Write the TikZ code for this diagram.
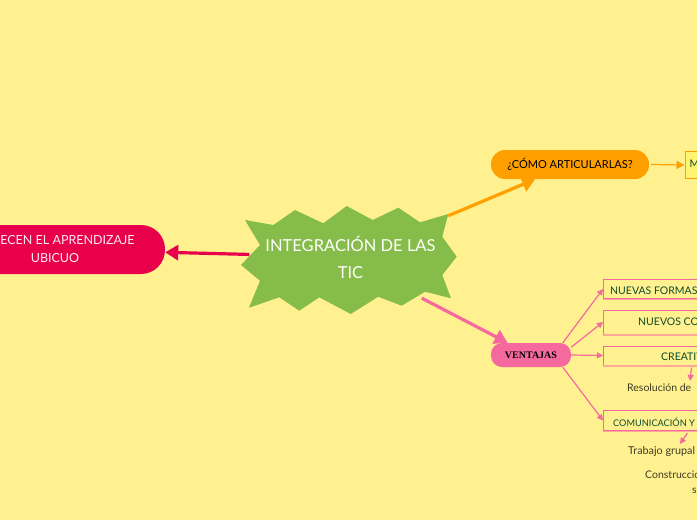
\documentclass[tikz,border=0pt]{standalone}
\usepackage{fontspec}
\setmainfont{Lato}
\newfontfamily\timesfont{Liberation Serif}
\usetikzlibrary{arrows.meta,calc}
\definecolor{bgc}{HTML}{FFF18F}
\definecolor{starc}{HTML}{86BC4A}
\definecolor{orangec}{HTML}{FFA000}
\definecolor{crimc}{HTML}{E8004C}
\definecolor{pinkc}{HTML}{F5699E}
\definecolor{salmonc}{HTML}{FFA89A}
\definecolor{greenc}{HTML}{0E4B2C}
\definecolor{brownc}{HTML}{3F3A22}
\tikzset{
 x=1pt,y=-1pt,
 pill/.style={rounded corners=#1,inner sep=0pt,align=center},
 subbox/.style={anchor=west,draw=pinkc,line width=1pt,inner sep=0pt,minimum width=200pt},
 subtext/.style={anchor=west,inner sep=0pt,text=greenc,font=\fontsize{10.5}{12}\selectfont},
 plain/.style={anchor=west,inner sep=0pt,text=brownc,font=\fontsize{10.5}{12}\selectfont},
 bigarrow/.style={line width=3.2pt,-{Triangle[length=13pt,width=15pt]}},
 thinarrow/.style={pinkc,line width=1.2pt,-{Triangle[length=6pt,width=6pt]}},
}
\begin{document}
\begin{tikzpicture}
\useasboundingbox (0,0) rectangle (697,520);
\clip (0,0) rectangle (697,520);
\fill[bgc] (0,0) rectangle (697,520);
% central star
\fill[starc] (245,220)--(273.3,225)--(295,210)--(323.3,223.3)--(346.7,206)--(372.7,220)--(398.3,207.7)--(420,222.3)--(448.3,214)--(442.3,236.7)--(456.7,256.7)--(442.3,275)--(451,298.3)--(425,291.7)--(401.7,305.7)--(378.3,296.7)--(350.7,314)--(319.3,297.3)--(299.3,310.7)--(279.3,297.3)--(249,307.7)--(260,280.7)--(241,265)--(260,245)--cycle;
\node[minimum width=202pt,minimum height=82pt,inner sep=0pt,align=center,text=white,font=\fontsize{16.5}{27}\selectfont] (central) at (350.5,257) {INTEGRACIÓN DE LAS\\TIC};
% main branches
\node[fill=orangec,pill=14pt,minimum width=158pt,minimum height=29pt,font=\fontsize{11}{15}\selectfont,text=black] (como) at (570,164.5) {¿CÓMO ARTICULARLAS?};
\node[fill=crimc,pill=24pt,minimum width=220pt,minimum height=49pt,text=white!85!pinkc,font=\fontsize{12.5}{18}\selectfont] (ubicuo) at (55,249.5) {OFRECEN EL APRENDIZAJE\\UBICUO};
\node[fill=pinkc,pill=11pt,minimum width=80pt,minimum height=24pt,font=\timesfont\bfseries\fontsize{10}{12}\selectfont,text=black] (ventajas) at (531,355) {VENTAJAS};
% sub boxes
\node[subbox,draw=orangec,fill=bgc!80!yellow,minimum height=27pt] (m) at (684.5,165) {};
\node[subbox,minimum height=19pt] (b1) at (603,289) {};
\node[subbox,minimum height=24pt] (b2) at (603,322) {};
\node[subbox,minimum height=19pt] (b3) at (603,355.5) {};
\node[subbox,minimum height=20pt] (b4) at (603,420.5) {};
\foreach \b in {b1,b2,b3,b4}{\draw[salmonc,line width=1.4pt] ($(\b.south west)+(0,0.4)$) -- ($(\b.south east)+(0,0.4)$);}
\node[subtext] (tm) at ($(m.west)+(5,-1)$) {M};
\node[subtext] (t1) at ($(b1.west)+(7,2)$) {NUEVAS FORMAS};
\node[subtext] (t2) at ($(b2.west)+(35,0)$) {NUEVOS CO};
\node[subtext] (t3) at ($(b3.west)+(58,1.5)$) {CREATIV};
\node[subtext,font=\fontsize{9.2}{12}\selectfont] (t4) at ($(b4.west)+(10,2)$) {COMUNICACIÓN Y};
% plain texts
\node[plain] (res) at (627,388) {Resolución de};
\node[plain,font=\fontsize{10.8}{12}\selectfont] (tra) at (628,452) {Trabajo grupal};
\node[plain] (con) at (645,475) {Construcció};
\node[plain] (s) at (692,491) {s};
% connectors
\draw[orangec,bigarrow] (central) -- (como);
\draw[crimc,bigarrow] (central) -- (ubicuo);
\draw[pinkc,bigarrow] (central.-30) -- (ventajas);
\draw[orangec,line width=1.2pt,-{Triangle[length=8pt,width=8pt]}] (como.east)++(2,0) -- (m.west);
\draw[thinarrow] (ventajas.21) -- (b1.west);
\draw[thinarrow] (ventajas.11) -- (b2.west);
\draw[thinarrow] (ventajas.east) -- (b3.west);
\draw[thinarrow] (ventajas.-21) -- (b4.west);
\draw[thinarrow] ($(b3.south west)+(88.5,2)$) -- ($(res.north west)+(63,-3)$);
\draw[thinarrow] ($(b4.south west)+(84.5,2)$) -- ($(tra.north west)+(52,-3)$);
\end{tikzpicture}
\end{document}
